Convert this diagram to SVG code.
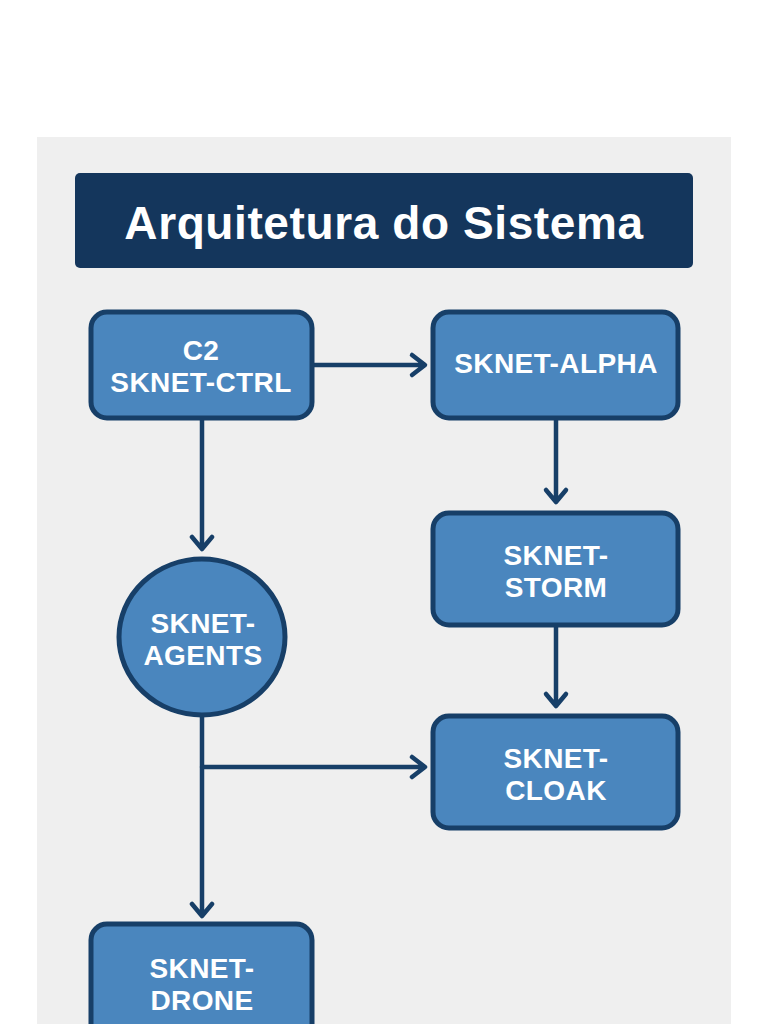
<svg xmlns="http://www.w3.org/2000/svg" width="768" height="1024" viewBox="0 0 768 1024">
<style>
.node{fill:#4a86be;stroke:#173f68;stroke-width:5}
.lbl{font-family:"Liberation Sans",Arial,sans-serif;font-weight:bold;font-size:28px;letter-spacing:0.4px;fill:#ffffff;text-anchor:middle}
.edge{fill:none;stroke:#173f68;stroke-width:4.5;stroke-linecap:round;stroke-linejoin:round}
</style>
<rect x="0" y="0" width="768" height="1024" fill="#ffffff"/>
<rect x="37" y="137" width="694" height="887" fill="#efefef"/>
<g id="title">
<rect x="75" y="173" width="618" height="95" rx="5" fill="#14365c"/>
<text x="384" y="239" font-family="Liberation Sans,Arial,sans-serif" font-size="46" font-weight="bold" letter-spacing="0.6" fill="#ffffff" text-anchor="middle">Arquitetura do Sistema</text>
</g>
<g id="connectors">
<path class="edge" d="M312 365 H424 M412 355 L425 365 L412 375"/>
<path class="edge" d="M202 419 V548 M192 537 L202 549 L212 537"/>
<path class="edge" d="M556 419 V502 M546 490 L556 502 L566 490"/>
<path class="edge" d="M556 627 V706 M546 694 L556 706 L566 694"/>
<path class="edge" d="M202 717 V915 M192 904 L202 916 L212 904"/>
<path class="edge" d="M202 767 H424 M412 757 L425 767 L412 777"/>
</g>
<g id="c2">
<rect class="node" x="91" y="312" width="221" height="106" rx="16"/>
<text class="lbl" x="201" y="360">C2</text>
<text class="lbl" x="201" y="392">SKNET-CTRL</text>
</g>
<g id="alpha">
<rect class="node" x="433" y="312" width="245" height="106" rx="16"/>
<text class="lbl" x="556" y="373">SKNET-ALPHA</text>
</g>
<g id="storm">
<rect class="node" x="433" y="513" width="245" height="112" rx="16"/>
<text class="lbl" x="556" y="565">SKNET-</text>
<text class="lbl" x="556" y="597">STORM</text>
</g>
<g id="cloak">
<rect class="node" x="433" y="716" width="245" height="112" rx="16"/>
<text class="lbl" x="556" y="768">SKNET-</text>
<text class="lbl" x="556" y="800">CLOAK</text>
</g>
<g id="agents">
<ellipse class="node" cx="202" cy="637" rx="83" ry="78"/>
<text class="lbl" x="203" y="633">SKNET-</text>
<text class="lbl" x="203" y="665">AGENTS</text>
</g>
<g id="drone">
<rect class="node" x="91" y="924" width="221" height="130" rx="16"/>
<text class="lbl" x="202" y="978">SKNET-</text>
<text class="lbl" x="202" y="1010">DRONE</text>
</g>
</svg>
